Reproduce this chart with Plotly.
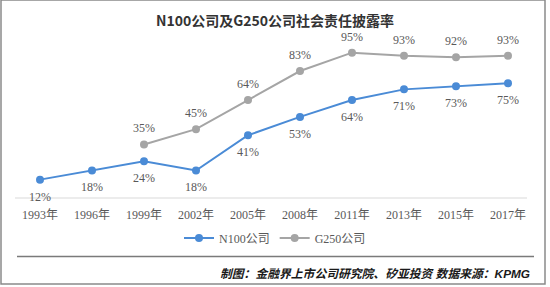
import plotly.graph_objects as go

categories = ["1993年", "1996年", "1999年", "2002年", "2005年", "2008年", "2011年", "2013年", "2015年", "2017年"]
n100 = [12, 18, 24, 18, 41, 53, 64, 71, 73, 75]
g250 = [None, None, 35, 45, 64, 83, 95, 93, 92, 93]

BLUE = "#4A8BD6"
GRAY = "#A5A5A5"
TXT = "#595959"
SERIF = "Liberation Serif, Noto Sans CJK SC"

W, H = 550, 287
L, R, T, B = 14, 16, 45, 89
PW, PH = W - L - R, H - T - B


def px(x):
    return (x - L) / PW


def py(y):
    return 1 - (y - T) / PH


fig = go.Figure()
fig.add_trace(go.Scatter(x=categories, y=n100, mode="lines+markers", name="N100公司",
                         line=dict(color=BLUE, width=2), marker=dict(color=BLUE, size=8)))
fig.add_trace(go.Scatter(x=categories, y=g250, mode="lines+markers", name="G250公司",
                         line=dict(color=GRAY, width=2), marker=dict(color=GRAY, size=8)))

annotations = []
for c, v in zip(categories, n100):
    annotations.append(dict(x=c, y=v, xref="x", yref="y", text=f"{v}%", showarrow=False,
                            yshift=-17, font=dict(family=SERIF, size=12, color=TXT)))
for c, v in zip(categories, g250):
    if v is None:
        continue
    annotations.append(dict(x=c, y=v, xref="x", yref="y", text=f"{v}%", showarrow=False,
                            yshift=16, font=dict(family=SERIF, size=12, color=TXT)))

annotations.append(dict(x=px(275), y=py(20), xref="paper", yref="paper",
                        text="<b>N100公司及G250公司社会责任披露率</b>", showarrow=False,
                        xanchor="center", yanchor="middle",
                        font=dict(family="Noto Sans CJK SC", size=14, color="#333333")))
annotations.append(dict(x=px(532), y=py(274), xref="paper", yref="paper",
                        text="<b><i>制图：金融界上市公司研究院、矽亚投资 数据来源：KPMG</i></b>",
                        showarrow=False, xanchor="right", yanchor="middle",
                        font=dict(family="Liberation Sans, Noto Sans CJK SC", size=11.8, color="#1a1a1a")))

shapes = [
    dict(type="line", xref="paper", yref="paper", x0=px(17), x1=px(534), y0=py(256.5), y1=py(256.5),
         line=dict(color="#7a7a7a", width=1.3)),
    dict(type="rect", xref="paper", yref="paper", x0=px(1), x1=px(545), y0=py(0), y1=py(284),
         line=dict(color="#8a8a8a", width=1.5)),
    dict(type="line", xref="paper", yref="paper", x0=px(15), x1=px(527), y0=0, y1=0,
         line=dict(color="#D9D9D9", width=1)),
]

fig.update_layout(
    width=W, height=H,
    margin=dict(l=L, r=R, t=T, b=B),
    paper_bgcolor="white", plot_bgcolor="white",
    showlegend=True,
    legend=dict(orientation="h", x=px(275), xanchor="center", y=py(238), yanchor="middle",
                font=dict(family=SERIF, size=12, color=TXT), itemwidth=30,
                bgcolor="rgba(0,0,0,0)", tracegroupgap=0),
    xaxis=dict(type="category", range=[-0.5, 9.5], showgrid=False, showline=False, zeroline=False,
               ticks="", tickfont=dict(family=SERIF, size=12, color=TXT), ticklabelstandoff=8,
               fixedrange=True),
    yaxis=dict(range=[0, 100], showgrid=False, showline=False, zeroline=False,
               showticklabels=False, fixedrange=True),
    annotations=annotations,
    shapes=shapes,
)

fig.write_html("out.html")
